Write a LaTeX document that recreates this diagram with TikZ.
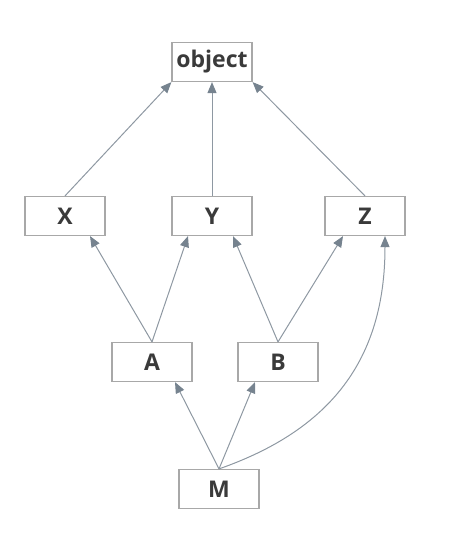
\documentclass[tikz,border=0pt]{standalone}
\usepackage{fontspec}
\setmainfont{Open Sans}
\usetikzlibrary{arrows.meta,calc}

\definecolor{boxline}{HTML}{A8A8A8}
\definecolor{arrowline}{HTML}{8E98A2}
\definecolor{arrowhead}{HTML}{76838F}
\definecolor{labeltext}{HTML}{3A3A3A}

\tikzset{
  classbox/.style={draw=boxline, line width=0.6pt, fill=white,
    minimum width=40pt, minimum height=19.5pt, inner sep=0pt,
    text=labeltext, font=\fontsize{11.5}{13}\selectfont\bfseries},
  inherit/.style={draw=arrowline, line width=0.5pt,
    -{Triangle[length=5.5pt,width=4.5pt,fill=arrowhead,color=arrowhead]}}
}

\begin{document}
\begin{tikzpicture}[x=0.5pt,y=-0.5pt]
\useasboundingbox (0,0) rectangle (471,551);
% The root of the hierarchy
\node[classbox] (object) at (212,62) {object};
% First level: the three base classes
\node[classbox] (X) at (65,216) {X};
\node[classbox] (Y) at (212,216) {Y};
\node[classbox] (Z) at (365,216) {Z};
% Second level
\node[classbox] (A) at (152,362) {A};
\node[classbox] (B) at (278,362) {B};
% The bottom class
\node[classbox] (M) at (219,489) {M};
% Arrows point from the child up to the parent
\draw[inherit] (X.north) -- (object.south west);
\draw[inherit] (Y.north) -- (object.south);
\draw[inherit] (Z.north) -- (object.south east);
\draw[inherit] (A.north) -- ($(X.south)+(25,0)$);
\draw[inherit] (A.north) -- ($(Y.south)+(-24,0)$);
\draw[inherit] (B.north) -- ($(Y.south)+(21,0)$);
\draw[inherit] (B.north) -- ($(Z.south)+(-22,0)$);
\draw[inherit] (M.north) -- ($(A.south)+(23,0)$);
\draw[inherit] (M.north) -- ($(B.south)+(-23,0)$);
% M also inherits from Z directly
\draw[inherit] (M.north) .. controls (330,430) and ($(Z.south)+(20,124)$) .. ($(Z.south)+(20,0)$);
\end{tikzpicture}
\end{document}
